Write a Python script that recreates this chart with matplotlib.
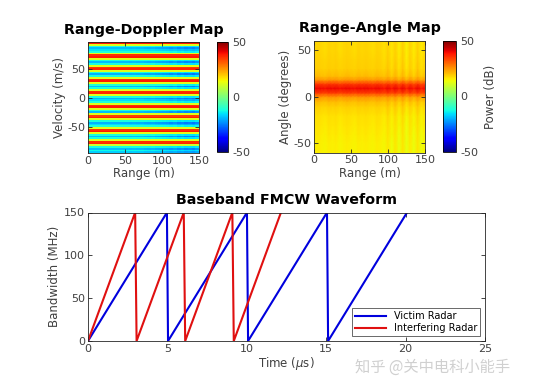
import numpy as np
import matplotlib
matplotlib.use("Agg")
import matplotlib.pyplot as plt

# ---------------- data ----------------
# Range-Doppler map: power (dB) per velocity bin, listed from top (+95 m/s) to bottom (-95 m/s)
rd_profile_top_to_bottom = [
    38, 12, -12, -19, -15, -11, 12, 36,
    38, 12, -12, -19, -12, 12, 35,
    37, 12, -12, -20, -12, 12, 36,
    38, 12, -11, -19, -12, 12, 36,
    37, 12, -12, -20, -16, -11, 12, 36,
    38, 12, -12, -19, 12, 34,
    37, 12, -12, -20, -16, -11, 12, 36,
    38, 12, -12, -19, -12, 12, 36,
    37, 10, -12, -19, -13, -17,
]
rd_velocity_limits = [-95, 95]
rd_range_limits = [0, 150]
# gain applied to the low (blue) stripes across range bins (darker at far range)
rd_range_gain = [1.0, 1.0, 1.0, 1.0, 1.0, 1.0, 1.0, 1.0, 1.0, 1.0,
                 1.0, 1.02, 1.0, 1.02, 1.0, 1.04, 1.06, 1.04, 1.08, 1.1,
                 1.12, 1.15, 1.2, 1.15, 1.25, 1.2, 1.28, 1.25, 1.3, 1.2]

# Range-Angle map: power (dB) vs angle
ra_angles = [-60, -50, -40, -30, -20, -10, -5, 0, 4, 9, 14, 18, 22, 30, 40, 50, 60]
ra_power = [15.5, 15.5, 16, 16.5, 17, 19, 21, 25, 34, 40, 34, 25, 21, 19, 18.5, 18, 18]
ra_range_bins = [0, 5, 10, 15, 20, 25, 30, 35, 40, 45, 50, 55, 60, 65, 70, 75, 80,
                 85, 90, 95, 100, 105, 110, 115, 120, 125, 130, 135, 140, 145, 150]
ra_range_mod = [0, 0.5, 0, -0.5, 0.5, 0, 0.5, -0.5, 0, 0.5, 0, -0.5, 0.5, 0, 0.5, 0,
                -0.5, 0.5, 0, -1, 1, -1.5, 1, -2, 1, -2.5, 0.5, -2, 1, -2, 0]

# Baseband FMCW waveform
victim_t = [0, 4.97, 5.04, 10.01, 10.08, 15.05, 15.12, 20.09]
victim_f = [0, 150, 0, 150, 0, 150, 0, 150]
interf_t = [0, 2.97, 3.06, 6.03, 6.12, 9.09, 9.18, 12.15]
interf_f = [0, 150, 0, 150, 0, 150, 0, 150]

# ---------------- figure ----------------
plt.rcParams['font.family'] = ['DejaVu Sans']
plt.rcParams['axes.unicode_minus'] = False
W, H = 536, 389
fig = plt.figure(figsize=(W / 100, H / 100), dpi=100)

def pos(x0, y0, x1, y1):
    return [x0 / W, 1 - y1 / H, (x1 - x0) / W, (y1 - y0) / H]

axcol = '#262626'
txtcol = '#404040'
tick_fs = 8
lab_fs = 8.5
title_fs = 10.3

def style(ax):
    for s in ax.spines.values():
        s.set_color(axcol)
        s.set_linewidth(0.6)
    ax.tick_params(direction='in', top=True, right=True, labelsize=tick_fs,
                   colors=axcol, labelcolor=txtcol, length=3, width=0.6, pad=2)

# Range-Doppler
ax1 = fig.add_axes(pos(88, 42.3, 199, 153))
prof = np.array(rd_profile_top_to_bottom, dtype=float)[::-1]
gain = np.array(rd_range_gain)
rd = np.where(prof[:, None] < 0, prof[:, None] * gain[None, :], prof[:, None] + 0 * gain[None, :])
v_edges = np.linspace(rd_velocity_limits[0], rd_velocity_limits[1], len(prof) + 1)
r_edges = np.linspace(rd_range_limits[0], rd_range_limits[1], len(gain) + 1)
m1 = ax1.pcolormesh(r_edges, v_edges, rd, cmap='jet', vmin=-50, vmax=50, shading='flat')
ax1.set_xlim(0, 150)
ax1.set_ylim(-95, 95)
ax1.set_xticks([0, 50, 100, 150])
ax1.set_yticks([-50, 0, 50])
style(ax1)
ax1.set_xlabel('Range (m)', fontsize=lab_fs, color=txtcol, labelpad=1)
ax1.set_ylabel('Velocity (m/s)', fontsize=lab_fs, color=txtcol, labelpad=1)
ax1.set_title('Range-Doppler Map', fontsize=title_fs, fontweight='bold', pad=6)

cax1 = fig.add_axes(pos(216.5, 41.5, 228, 152))
cb1 = fig.colorbar(m1, cax=cax1, ticks=[-50, 0, 50])
cb1.outline.set_linewidth(0.6)
cax1.tick_params(direction='in', labelsize=tick_fs, length=0, pad=3, colors=txtcol)

# Range-Angle
ax2 = fig.add_axes(pos(314, 40.7, 425, 152.7))
ang = np.array(ra_angles, dtype=float)
rr = np.array(ra_range_bins, dtype=float)
ra = np.array(ra_power)[:, None] + np.array(ra_range_mod)[None, :]
m2 = ax2.pcolormesh(rr, ang, ra, cmap='jet', vmin=-50, vmax=50, shading='gouraud')
ax2.set_xlim(0, 150)
ax2.set_ylim(-60, 60)
ax2.set_xticks([0, 50, 100, 150])
ax2.set_yticks([-50, 0, 50])
style(ax2)
ax2.set_xlabel('Range (m)', fontsize=lab_fs, color=txtcol, labelpad=1)
ax2.set_ylabel('Angle (degrees)', fontsize=lab_fs, color=txtcol, labelpad=1)
ax2.set_title('Range-Angle Map', fontsize=title_fs, fontweight='bold', pad=6)

cax2 = fig.add_axes(pos(443, 41, 456, 152))
cb2 = fig.colorbar(m2, cax=cax2, ticks=[-50, 0, 50])
cb2.outline.set_linewidth(0.6)
cax2.tick_params(direction='in', labelsize=tick_fs, length=0, pad=3, colors=txtcol)
cb2.set_label('Power (dB)', fontsize=lab_fs, color=txtcol, labelpad=4)

# Waveform
ax3 = fig.add_axes(pos(88, 212.5, 485, 341))
ax3.plot(victim_t, victim_f, color='#0000dd', lw=1.5, label='Victim Radar')
ax3.plot(interf_t, interf_f, color='#e01010', lw=1.5, label='Interfering Radar')
ax3.set_xlim(0, 25)
ax3.set_ylim(0, 150)
ax3.set_xticks([0, 5, 10, 15, 20, 25])
ax3.set_yticks([0, 50, 100, 150])
style(ax3)
ax3.set_xlabel(r'Time ($\mu$s)', fontsize=lab_fs, color=txtcol, labelpad=1)
ax3.set_ylabel('Bandwidth (MHz)', fontsize=lab_fs, color=txtcol, labelpad=2)
ax3.set_title('Baseband FMCW Waveform', fontsize=title_fs, fontweight='bold', pad=6)
leg = ax3.legend(loc='lower right', fontsize=7, frameon=True, fancybox=False,
                 edgecolor=axcol, borderpad=0.3, handlelength=3.2, labelspacing=0.2,
                 borderaxespad=0.5)
leg.get_frame().set_linewidth(0.6)

fig.text(0.951, 0.057, '知乎 @关中电科小能手', fontsize=11, color='#d0d0d0', ha='right',
         va='center', family=['Noto Sans CJK SC', 'DejaVu Sans'])

fig.savefig('out.png', dpi=100)
